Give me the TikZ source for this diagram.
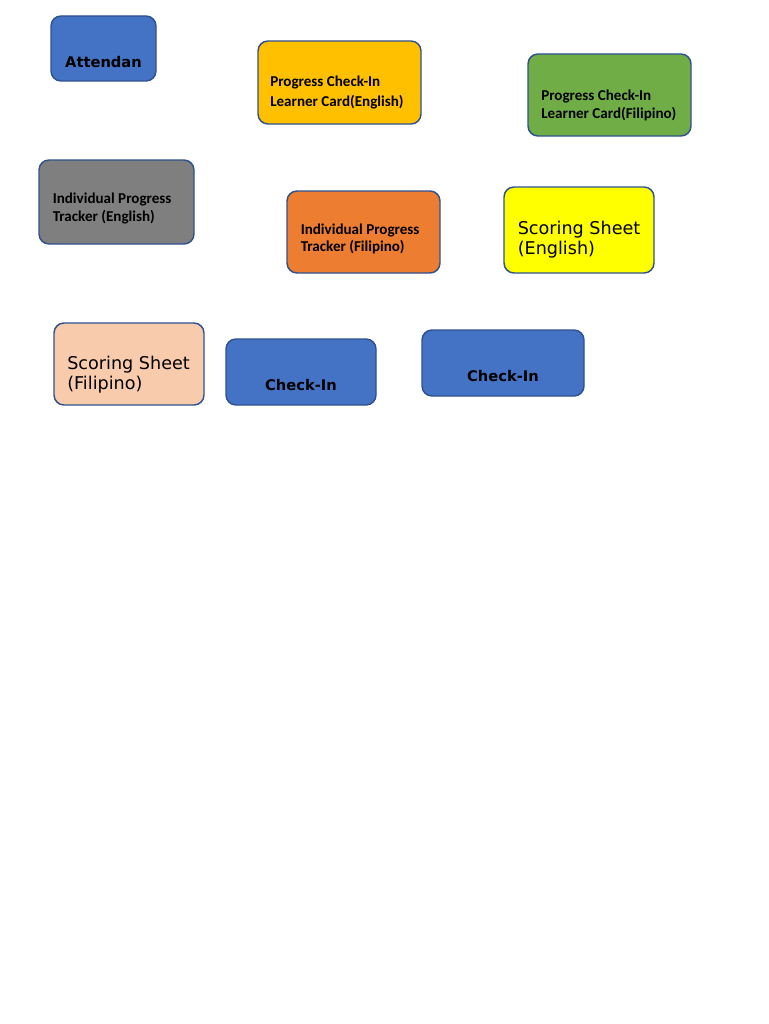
\documentclass[tikz,border=0pt]{standalone}
\usepackage{fontspec}
\newfontfamily\carl{Carlito}
\newfontfamily\dvs{DejaVu Sans}
\usetikzlibrary{fit}
\definecolor{bordc}{HTML}{2F528F}
\definecolor{cblue}{HTML}{4472C4}
\definecolor{camber}{HTML}{FFC000}
\definecolor{cgreen}{HTML}{70AD47}
\definecolor{cgray}{HTML}{7F7F7F}
\definecolor{corange}{HTML}{ED7D31}
\definecolor{cyellow}{HTML}{FFFF00}
\definecolor{cpeach}{HTML}{F8CBAD}
\begin{document}
\begin{tikzpicture}[x=0.75pt,y=-0.75pt,
  box/.style={draw=bordc, line width=1.1pt, rounded corners=7.5pt, inner sep=0pt},
  cal/.style={font=\carl\bfseries\fontsize{11.3}{13}\selectfont, anchor=base west, inner sep=0pt, text=black},
  dv/.style={font=\dvs\fontsize{13.2}{15}\selectfont, anchor=base west, inner sep=0pt, text=black},
  chk/.style={font=\dvs\bfseries\fontsize{11}{13}\selectfont, anchor=base, inner sep=0pt, text=black}]
\useasboundingbox (0,0) rectangle (768,1024);
% boxes
\node[box, fill=cblue,   fit={(51,16) (156,81)}]   (att) {};
\node[box, fill=camber,  fit={(258,41) (421,124)}] (pce) {};
\node[box, fill=cgreen,  fit={(528,54) (691,136)}] (pcf) {};
\node[box, fill=cgray,   fit={(39,160) (194,244)}] (ipe) {};
\node[box, fill=corange, fit={(287,191) (440,273)}] (ipf) {};
\node[box, fill=cyellow, fit={(504,187) (654,273)}] (sse) {};
\node[box, fill=cpeach,  fit={(54,323) (204,405)}] (ssf) {};
\node[box, fill=cblue,   fit={(226,339) (376,405)}] (ck1) {};
\node[box, fill=cblue,   fit={(422,330) (584,396)}] (ck2) {};
% texts
\node[chk] (t1) at (103.5,68) {Attendan};
\node[cal] (t2a) at (270,87) {Progress Check-In};
\node[cal] (t2b) at (270,106) {Learner Card(English)};
\node[cal] (t3a) at (541,100) {Progress Check-In};
\node[cal] (t3b) at (541,118.5) {Learner Card(Filipino)};
\node[cal] (t4a) at (52.5,203) {Individual Progress};
\node[cal] (t4b) at (52.5,221.5) {Tracker (English)};
\node[cal] (t5a) at (300.5,234) {Individual Progress};
\node[cal] (t5b) at (300.5,251.5) {Tracker (Filipino)};
\node[dv] (t6a) at (517.5,234) {Scoring Sheet};
\node[dv] (t6b) at (517.5,254) {(English)};
\node[dv] (t7a) at (67,369) {Scoring Sheet};
\node[dv] (t7b) at (67,389.5) {(Filipino)};
\node[chk] (t8) at (301,390.5) {Check-In};
\node[chk] (t9) at (503,381) {Check-In};
\end{tikzpicture}
\end{document}
